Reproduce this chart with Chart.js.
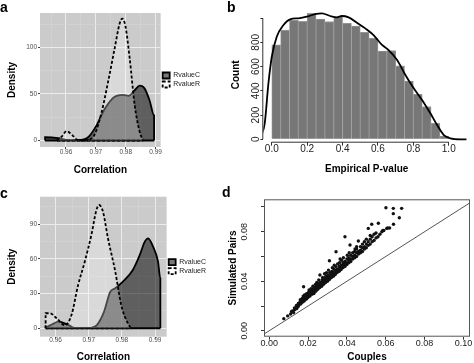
<!DOCTYPE html>
<html>
<head>
<meta charset="utf-8">
<script src="https://cdn.jsdelivr.net/npm/chart.js@4.4.1/dist/chart.umd.min.js"></script>
<style>
  body { margin: 0; background: #fff; width: 474px; height: 363px; position: relative; overflow: hidden; }
  canvas { position: absolute; }
  .tag { position: absolute; font: bold 14px "Liberation Sans", Arial, sans-serif; line-height: 14px; color: #000; }
</style>
</head>
<body>
<canvas id="pa" width="240" height="180" style="left:0;top:0"></canvas>
<canvas id="pb" width="248" height="180" style="left:226px;top:0"></canvas>
<canvas id="pc" width="240" height="183" style="left:0;top:180px"></canvas>
<canvas id="pd" width="248" height="183" style="left:226px;top:180px"></canvas>
<div class="tag" style="left:0;top:0">a</div>
<div class="tag" style="left:227px;top:0">b</div>
<div class="tag" style="left:0;top:186px">c</div>
<div class="tag" style="left:222px;top:185px">d</div>
<script>
// panel a - density of correlations
const aCx = [0.9530, 0.9530, 0.9574, 0.9608, 0.9641, 0.9674, 0.9702, 0.9730, 0.9763, 0.9791, 0.9810, 0.9830, 0.9847, 0.9863, 0.9880, 0.9895, 0.9895];
const aCy = [0, 3.5, 2.5, 0.3, 0.3, 3.5, 16, 34, 47, 49, 48, 54, 59, 56, 43, 27, 0];
const aRx = [0.9570, 0.9585, 0.9602, 0.9620, 0.9636, 0.9655, 0.9674, 0.9697, 0.9719, 0.9741, 0.9763, 0.9780, 0.9788, 0.9799, 0.9813, 0.9830, 0.9847, 0.9858];
const aRy = [0, 4, 10, 6, 1, 0, 0.5, 7, 30, 63, 99, 126, 131, 123, 89, 38, 9, 0];
const aYMajor = [0, 50, 100];
const aYMinor = [25, 75, 125];

// panel c - density of correlations
const cCx = [0.9570, 0.9570, 0.9590, 0.9608, 0.9638, 0.9658, 0.9700, 0.9725, 0.9745, 0.9765, 0.9780, 0.9803, 0.9833, 0.9854, 0.9869, 0.9879, 0.9894, 0.9909, 0.9916, 0.9916];
const cCy = [0, 1, 3.5, 5.7, 3, 0.3, 0.3, 3, 13.5, 31.6, 34.6, 40.3, 50.4, 63.4, 74.9, 77.8, 70.6, 57.6, 43, 0];
const cRx = [0.9570, 0.9570, 0.9583, 0.9603, 0.9628, 0.9648, 0.9668, 0.9688, 0.9708, 0.9723, 0.9731, 0.9743, 0.9758, 0.9780, 0.9798, 0.9818, 0.9828];
const cRy = [0, 13, 13, 8.6, 2.6, 11.5, 37.4, 57.6, 80.7, 102, 106.6, 100.8, 77.8, 49, 20, 4.3, 0];
const cYMajor = [0, 30, 60, 90];
const cYMinor = [15, 45, 75, 105];

const corrMajor = [0.96, 0.97, 0.98, 0.99];
const corrMinor = [0.955, 0.965, 0.975, 0.985];

// panel b - histogram of empirical p-values
const binMids = [0.025, 0.075, 0.125, 0.175, 0.225, 0.275, 0.325, 0.375, 0.425, 0.475, 0.525, 0.575, 0.625, 0.675, 0.725, 0.775, 0.825, 0.875, 0.925, 0.975];
const binCounts = [780, 900, 982, 972, 1038, 992, 970, 1010, 957, 934, 882, 833, 728, 731, 605, 481, 371, 269, 132, 27];
const bDensX = [-0.07, -0.04, -0.019, 0.0, 0.028, 0.066, 0.104, 0.151, 0.198, 0.245, 0.283, 0.33, 0.368, 0.396, 0.434, 0.481, 0.528, 0.575, 0.623, 0.66, 0.708, 0.755, 0.802, 0.849, 0.896, 0.934, 0.972, 1.01, 1.066, 1.1];
const bDensY = [0, 132, 462, 681, 846, 943, 990, 998, 1011, 1033, 1039, 1017, 1006, 1017, 1006, 962, 915, 860, 778, 736, 654, 530, 420, 324, 214, 118, 35, 8, 0, 0];
const bXTicks = [0, 0.2, 0.4, 0.6, 0.8, 1.0];
const bYTicks = [0, 200, 400, 600, 800, 1000];

// panel d - couples vs simulated pairs
const dXTicks = [0, 0.02, 0.04, 0.06, 0.08, 0.1];
const dYTicks = [0, 0.02, 0.04, 0.06, 0.08, 0.1];
const dYLabelled = [0, 0.04, 0.08];
const diagX = [-0.01, 0.11];
const couplesVsPairs = [
  [0.0075,0.0098],[0.0095,0.012],[0.011,0.0135],[0.0115,0.0155],[0.012,0.016],[0.0125,0.0148],[0.013,0.017],[0.013,0.0185],
  [0.0135,0.0175],[0.014,0.019],[0.014,0.0205],[0.0142,0.018],[0.0148,0.0195],[0.015,0.020],[0.015,0.022],[0.0152,0.021],
  [0.0155,0.0225],[0.016,0.0215],[0.016,0.023],[0.016,0.025],[0.0163,0.022],[0.0168,0.024],[0.017,0.023],[0.017,0.026],
  [0.0172,0.0245],[0.0175,0.028],[0.0177,0.0356],[0.018,0.024],[0.018,0.0255],[0.018,0.027],[0.0182,0.029],[0.0185,0.026],
  [0.019,0.0255],[0.019,0.027],[0.019,0.0285],[0.0192,0.030],[0.0195,0.0265],[0.020,0.027],[0.020,0.028],[0.020,0.0295],
  [0.0202,0.031],[0.0205,0.033],[0.021,0.028],[0.021,0.0295],[0.021,0.031],[0.0212,0.0325],[0.0215,0.034],[0.022,0.0295],
  [0.022,0.031],[0.022,0.032],[0.0222,0.0335],[0.0225,0.036],[0.023,0.030],[0.023,0.031],[0.023,0.0325],[0.0232,0.0335],
  [0.0235,0.035],[0.0238,0.0375],[0.024,0.032],[0.024,0.0335],[0.024,0.035],[0.0242,0.0365],[0.0245,0.039],[0.025,0.0335],
  [0.025,0.035],[0.025,0.0365],[0.0252,0.038],[0.0255,0.041],[0.026,0.035],[0.026,0.036],[0.026,0.0375],[0.0262,0.039],
  [0.0261,0.045],[0.027,0.036],[0.027,0.0375],[0.027,0.039],[0.0272,0.041],[0.0275,0.043],[0.028,0.0375],[0.028,0.039],
  [0.028,0.0405],[0.0282,0.042],[0.0285,0.046],[0.029,0.039],[0.029,0.040],[0.029,0.042],[0.0292,0.044],[0.0295,0.047],
  [0.030,0.040],[0.030,0.0415],[0.030,0.043],[0.0302,0.045],[0.0305,0.049],[0.031,0.0415],[0.031,0.043],[0.031,0.0445],
  [0.0312,0.047],[0.031,0.0565],[0.032,0.043],[0.032,0.0445],[0.032,0.046],[0.0322,0.048],[0.0325,0.051],[0.033,0.044],
  [0.033,0.046],[0.033,0.0475],[0.0332,0.050],[0.0335,0.053],[0.034,0.0455],[0.034,0.047],[0.034,0.049],[0.0342,0.052],
  [0.0344,0.0638],[0.035,0.047],[0.035,0.0485],[0.035,0.050],[0.0352,0.054],[0.036,0.048],[0.036,0.050],[0.036,0.052],
  [0.0362,0.055],[0.0365,0.058],[0.037,0.0495],[0.037,0.051],[0.037,0.053],[0.0372,0.057],[0.038,0.051],[0.038,0.053],
  [0.038,0.055],[0.0382,0.059],[0.039,0.052],[0.039,0.054],[0.039,0.056],[0.039,0.076],[0.040,0.0535],[0.040,0.055],
  [0.040,0.058],[0.0402,0.061],[0.041,0.055],[0.041,0.057],[0.041,0.059],[0.0412,0.063],[0.042,0.056],[0.042,0.058],
  [0.042,0.061],[0.0416,0.0693],[0.043,0.058],[0.043,0.060],[0.043,0.063],[0.044,0.059],[0.044,0.061],[0.044,0.064],
  [0.0442,0.066],[0.045,0.060],[0.045,0.063],[0.045,0.066],[0.045,0.0679],[0.046,0.062],[0.046,0.064],[0.0459,0.0725],
  [0.047,0.063],[0.047,0.065],[0.047,0.068],[0.048,0.064],[0.048,0.067],[0.048,0.070],[0.049,0.066],[0.049,0.068],
  [0.049,0.072],[0.050,0.067],[0.050,0.070],[0.050,0.074],[0.051,0.069],[0.051,0.072],[0.051,0.0827],[0.052,0.070],
  [0.052,0.074],[0.052,0.077],[0.053,0.072],[0.053,0.076],[0.0528,0.086],[0.054,0.073],[0.054,0.078],[0.055,0.075],
  [0.055,0.079],[0.056,0.076],[0.0562,0.0868],[0.057,0.078],[0.058,0.080],[0.0585,0.081],[0.059,0.081],[0.0601,0.0994],
  [0.0605,0.0827],[0.061,0.083],[0.062,0.083],[0.0639,0.0989],[0.0639,0.0946],[0.064,0.086],[0.067,0.0913],[0.0682,0.0989]
];

Chart.defaults.font.family = '"Liberation Sans", Arial, Helvetica, sans-serif';
Chart.defaults.animation = false;
Chart.defaults.responsive = false;
Chart.defaults.plugins.tooltip.enabled = false;

function pts(xs, ys) {
  return xs.map((x, i) => ({ x: x, y: ys[i] }));
}
// bottom edge of a density polygon (geom_density draws it too)
function baseline(xs) {
  return [{ x: xs[0], y: 0 }, { x: xs[xs.length - 1], y: 0 }];
}
function setTicks(list) {
  return s => { s.ticks = list.map(v => ({ value: v })); };
}

// grey panel background (ggplot look)
const panelBg = {
  id: 'panelBg',
  beforeDraw(chart, args, opts) {
    if (!opts.color) return;
    const a = chart.chartArea, ctx = chart.ctx;
    ctx.save();
    ctx.fillStyle = opts.color;
    ctx.fillRect(a.left, a.top, a.right - a.left, a.bottom - a.top);
    ctx.restore();
  }
};

// base R style axis lines (from first to last tick) or full box
const baseAxes = {
  id: 'baseAxes',
  afterDraw(chart, args, opts) {
    const ctx = chart.ctx, a = chart.chartArea;
    ctx.save();
    ctx.strokeStyle = opts.color || '#333';
    ctx.lineWidth = 1;
    if (opts.box) {
      ctx.strokeRect(a.left + 0.5, a.top + 0.5, a.right - a.left - 1, a.bottom - a.top - 1);
    } else {
      const sx = chart.scales.x, sy = chart.scales.y;
      const xt = sx.ticks, yt = sy.ticks;
      ctx.beginPath();
      ctx.moveTo(sx.getPixelForValue(xt[0].value), a.bottom + 0.5);
      ctx.lineTo(sx.getPixelForValue(xt[xt.length - 1].value), a.bottom + 0.5);
      ctx.moveTo(a.left - 0.5, sy.getPixelForValue(yt[0].value));
      ctx.lineTo(a.left - 0.5, sy.getPixelForValue(yt[yt.length - 1].value));
      ctx.stroke();
    }
    ctx.restore();
  }
};

function densityChart(id, d) {
  const xTicks = corrMinor.concat(corrMajor).filter(v => v > d.xmin && v < d.xmax).sort((p, q) => p - q);
  const yTicks = d.yMajor.concat(d.yMinor).filter(v => v < d.ymax).sort((p, q) => p - q);
  const gridCol = major => c => (c.tick && major.includes(c.tick.value)) ? '#ececec' : '#d6d6d6';
  const tickCol = major => c => (c.tick && major.includes(c.tick.value)) ? '#444' : 'rgba(0,0,0,0)';
  const gridW = major => c => (c.tick && major.includes(c.tick.value)) ? 1 : 0.6;
  new Chart(document.getElementById(id), {
    type: 'line',
    data: {
      datasets: [
        {
          label: 'RvalueR', data: pts(d.rx, d.ry),
          borderColor: '#000', borderWidth: 1.8, borderDash: [3, 2],
          backgroundColor: 'rgba(255,255,255,0.28)', fill: 'origin',
          pointRadius: 0, cubicInterpolationMode: 'monotone'
        },
        {
          label: 'RvalueC', data: pts(d.cx, d.cy),
          borderColor: '#000', borderWidth: 1.8,
          backgroundColor: 'rgba(0,0,0,0.53)', fill: 'origin',
          pointRadius: 0, cubicInterpolationMode: 'monotone'
        },
        {
          data: baseline(d.rx), borderColor: '#000', borderWidth: 1.8, borderDash: [3, 2],
          pointRadius: 0, fill: false
        },
        {
          data: baseline(d.cx), borderColor: '#000', borderWidth: 1.8,
          pointRadius: 0, fill: false
        }
      ]
    },
    options: {
      layout: { padding: { top: d.top, right: d.right, bottom: 0, left: 0 } },
      scales: {
        x: {
          type: 'linear', min: d.xmin, max: d.xmax,
          afterBuildTicks: setTicks(xTicks),
          afterFit: s => { s.height = d.xh; },
          ticks: {
            callback: v => corrMajor.includes(v) ? v.toFixed(2) : '',
            font: { size: 6.5 }, color: '#4d4d4d', padding: d.xpad, autoSkip: false, maxRotation: 0
          },
          grid: { color: gridCol(corrMajor), lineWidth: gridW(corrMajor), tickColor: tickCol(corrMajor), tickLength: 2 },
          border: { display: false },
          title: { display: true, text: 'Correlation', color: '#000', font: { size: 10, weight: 'bold' }, padding: { top: 0, bottom: d.tpad } }
        },
        y: {
          min: d.ymin, max: d.ymax,
          afterBuildTicks: setTicks(yTicks),
          afterFit: s => { s.width = 40; },
          ticks: {
            callback: v => d.yMajor.includes(v) ? String(v) : '',
            font: { size: 6.5 }, color: '#4d4d4d', padding: 1, autoSkip: false
          },
          grid: { color: gridCol(d.yMajor), lineWidth: gridW(d.yMajor), tickColor: tickCol(d.yMajor), tickLength: 2 },
          border: { display: false },
          title: { display: true, text: 'Density', color: '#000', font: { size: 10, weight: 'bold' }, padding: { top: 6, bottom: 0 } }
        }
      },
      plugins: {
        panelBg: { color: '#cbcbcb' },
        legend: {
          position: 'right', fullSize: false, reverse: true,
          labels: {
            boxWidth: 7, boxHeight: 6, padding: 2, color: '#222', font: { size: 7 },
            filter: item => !!item.text
          }
        }
      }
    },
    plugins: [panelBg]
  });
}

densityChart('pa', {
  cx: aCx, cy: aCy, rx: aRx, ry: aRy, yMajor: aYMajor, yMinor: aYMinor,
  xmin: 0.9513, xmax: 0.9917, ymin: -7, ymax: 137,
  top: 13, right: 30, xh: 33, xpad: -1, tpad: 4
});
densityChart('pc', {
  cx: cCx, cy: cCy, rx: cRx, ry: cRy, yMajor: cYMajor, yMinor: cYMinor,
  xmin: 0.9553, xmax: 0.9935, ymin: -7.3, ymax: 113.8,
  top: 16.7, right: 24, xh: 26.3, xpad: -2, tpad: 0
});

// panel b
new Chart(document.getElementById('pb'), {
  type: 'bar',
  data: {
    datasets: [
      {
        type: 'line', data: pts(bDensX, bDensY),
        borderColor: '#000', borderWidth: 1.8, pointRadius: 0,
        cubicInterpolationMode: 'monotone', fill: false
      },
      {
        type: 'bar', data: pts(binMids, binCounts),
        backgroundColor: '#777777', borderColor: '#9c9c9c', borderWidth: 0.8,
        barPercentage: 1, categoryPercentage: 1
      }
    ]
  },
  options: {
    layout: { padding: { top: 8, right: 4, bottom: 0, left: 0 } },
    scales: {
      x: {
        type: 'linear', min: -0.048, max: 1.12, offset: false,
        afterBuildTicks: setTicks(bXTicks),
        afterFit: s => { s.height = 38.3; },
        ticks: { callback: v => v.toFixed(1), font: { size: 10 }, color: '#222', padding: -2, autoSkip: false, maxRotation: 0 },
        grid: { drawOnChartArea: false, offset: false, tickLength: 4, tickColor: '#333' },
        border: { display: false },
        title: { display: true, text: 'Empirical P-value', color: '#000', font: { size: 10, weight: 'bold' }, padding: { top: 0, bottom: 5 } }
      },
      y: {
        min: -20, max: 1083,
        afterBuildTicks: setTicks(bYTicks),
        afterFit: s => { s.width = 37.3; },
        ticks: {
          callback: v => v === 1000 ? '' : String(v),
          font: { size: 10 }, color: '#222', padding: -4, autoSkip: false,
          minRotation: 90, maxRotation: 90, crossAlign: 'center'
        },
        grid: { drawOnChartArea: false, tickLength: 3, tickColor: '#333' },
        border: { display: false },
        title: { display: true, text: 'Count', color: '#000', font: { size: 10, weight: 'bold' }, padding: { top: 4, bottom: 0 } }
      }
    },
    plugins: { legend: { display: false }, baseAxes: { color: '#333' } }
  },
  plugins: [baseAxes]
});

// panel d
new Chart(document.getElementById('pd'), {
  type: 'scatter',
  data: {
    datasets: [
      {
        data: couplesVsPairs.map(p => ({ x: p[0], y: p[1] })),
        backgroundColor: '#111', borderWidth: 0, pointRadius: 1.7
      },
      {
        type: 'line', data: pts(diagX, diagX),
        borderColor: '#555', borderWidth: 1, pointRadius: 0, fill: false
      }
    ]
  },
  options: {
    layout: { padding: { top: 19.3, right: 4, bottom: 0, left: 0 } },
    scales: {
      x: {
        type: 'linear', min: -0.0027, max: 0.1034,
        afterBuildTicks: setTicks(dXTicks),
        afterFit: s => { s.height = 26.3; },
        ticks: { callback: v => v.toFixed(2), font: { size: 9 }, color: '#222', padding: -2, autoSkip: false, maxRotation: 0 },
        grid: { drawOnChartArea: false, tickLength: 3, tickColor: '#333' },
        border: { display: false },
        title: { display: true, text: 'Couples', color: '#000', font: { size: 10, weight: 'bold' }, padding: { top: 0, bottom: 0 } }
      },
      y: {
        type: 'linear', min: -0.0048, max: 0.1062,
        afterBuildTicks: setTicks(dYTicks),
        afterFit: s => { s.width = 38; },
        ticks: {
          callback: v => dYLabelled.includes(v) ? v.toFixed(2) : '',
          font: { size: 9 }, color: '#222', padding: 8, autoSkip: false,
          minRotation: 90, maxRotation: 90, crossAlign: 'center'
        },
        grid: { drawOnChartArea: false, tickLength: 3, tickColor: '#333' },
        border: { display: false },
        title: { display: true, text: 'Simulated Pairs', color: '#000', font: { size: 10, weight: 'bold' }, padding: { top: 1, bottom: 0 } }
      }
    },
    plugins: { legend: { display: false }, baseAxes: { box: true, color: '#555' } }
  },
  plugins: [baseAxes]
});
</script>
</body>
</html>
